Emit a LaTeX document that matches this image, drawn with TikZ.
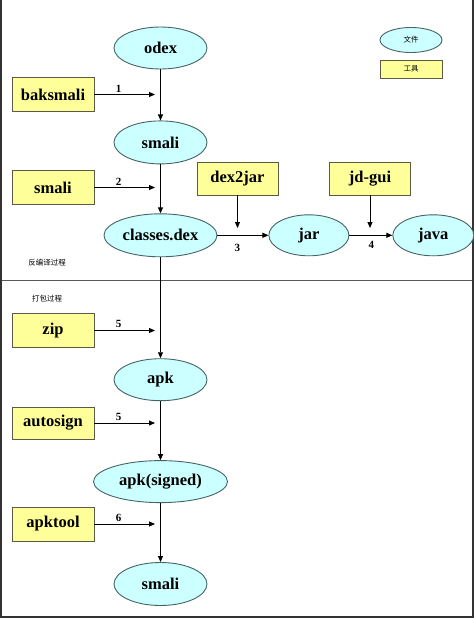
\documentclass[tikz,border=0pt]{standalone}
\usepackage{fontspec}
\setmainfont{Liberation Serif}
\newfontfamily\cjk{Noto Sans CJK SC}
\usetikzlibrary{positioning,shapes.geometric,arrows.meta}
\definecolor{filefill}{RGB}{204,255,255}
\definecolor{filedraw}{RGB}{70,100,100}
\definecolor{toolfill}{RGB}{255,255,153}
\definecolor{tooldraw}{RGB}{90,90,70}

\begin{document}
\begin{tikzpicture}[x=1pt,y=1pt,
filenode/.style={ellipse, draw=filedraw, fill=filefill, line width=0.9pt, inner sep=0pt,
  minimum width=93pt, minimum height=42pt, font=\fontsize{16.5}{18}\selectfont\bfseries},
toolnode/.style={rectangle, draw=tooldraw, fill=toolfill, line width=0.9pt, inner sep=0pt,
  minimum width=82pt, minimum height=34pt, font=\fontsize{16.5}{18}\selectfont\bfseries},
steplabel/.style={font=\fontsize{11}{12}\selectfont\bfseries, inner sep=2pt},
note/.style={font=\cjk\fontsize{7.5}{8}\selectfont},
arr/.style={line width=0.9pt, -{Triangle[length=6pt,width=5pt]}},
]
\useasboundingbox (0,0) rectangle (474,-619);

%Frame
\draw[gray!40!black, line width=2.5pt] (1,0) -- (1,-617) -- (473,-617) -- (473,0);
\draw[gray!70!black, line width=1pt] (2,-280) -- (472,-280);
\node[note] (decomp) at (47,-263) {反编译过程};
\node[note] (pack)   at (47,-299) {打包过程};

%Legend
\node[filenode, minimum width=62pt, minimum height=25pt, font=\cjk\fontsize{7.5}{8}\selectfont] (legfile) at (411,-40) {文件};
\node[toolnode, minimum width=62pt, minimum height=18pt, font=\cjk\fontsize{7.5}{8}\selectfont] (legtool) at (411,-69) {工具};

%Nodes
\node[filenode]                         (odex)    at (160.5,-48)          {odex};
\node[filenode, minimum height=43pt]    (smali)   [below=51pt of odex]    {smali};
\node[filenode, minimum width=113pt, minimum height=43pt] (classes) [below=49pt of smali] {classes.dex};
\node[filenode, minimum width=80pt, minimum height=41pt]  (jar)     [right=51pt of classes] {jar};
\node[filenode, minimum width=81pt, minimum height=41pt]  (java)    [right=43pt of jar]     {java};
\node[filenode]                         (apk)     [below=101pt of classes] {apk};
\node[filenode, minimum width=134pt]    (signed)  [below=59pt of apk]     {apk(signed)};
\node[filenode, minimum height=43pt]    (smalib)  [below=59pt of signed]  {smali};

\node[toolnode]               (baksmali) at (53,-94.5)    {baksmali};
\node[toolnode]               (smalitool) at (53,-187.5)  {smali};
\node[toolnode, minimum width=81pt, minimum height=33pt] (dexjar) at (237.5,-178.5) {dex2jar};
\node[toolnode, minimum width=81pt, minimum height=33pt] (jdgui)  at (370,-178.5)   {jd-gui};
\node[toolnode]               (zip)      at (53,-330.5)   {zip};
\node[toolnode, minimum height=32pt] (autosign) at (53,-423) {autosign};
\node[toolnode]               (apktool)  at (53,-524)     {apktool};

%Free ends
\coordinate (t1) at (155,-94.5);
\coordinate (t2) at (155,-187.5);
\coordinate (t3) at (237.5,-228);
\coordinate (t4) at (370,-228);
\coordinate (t5) at (155,-330.5);
\coordinate (t6) at (155,-423);
\coordinate (t7) at (155,-524);

%Lines
\draw[arr] (odex.south)    -- (smali.north);
\draw[arr] (smali.south)   -- (classes.north);
\draw[arr] (classes.south) -- (apk.north);
\draw[arr] (apk.south)     -- (signed.north);
\draw[arr] (signed.south)  -- (smalib.north);
\draw[arr] (classes.east)  -- node[steplabel, pos=0.39, below=6pt] {3} (jar.west);
\draw[arr] (jar.east)      -- node[steplabel, pos=0.51, below=4pt] {4} (java.west);

\draw[arr] (baksmali.east)  -- node[steplabel, pos=0.4, above] {1} (t1);
\draw[arr] (smalitool.east) -- node[steplabel, pos=0.4, above] {2} (t2);
\draw[arr] (dexjar.south)   -- (t3);
\draw[arr] (jdgui.south)    -- (t4);
\draw[arr] (zip.east)       -- node[steplabel, pos=0.4, above] {5} (t5);
\draw[arr] (autosign.east)  -- node[steplabel, pos=0.4, above] {5} (t6);
\draw[arr] (apktool.east)   -- node[steplabel, pos=0.4, above] {6} (t7);

\end{tikzpicture}
\end{document}
